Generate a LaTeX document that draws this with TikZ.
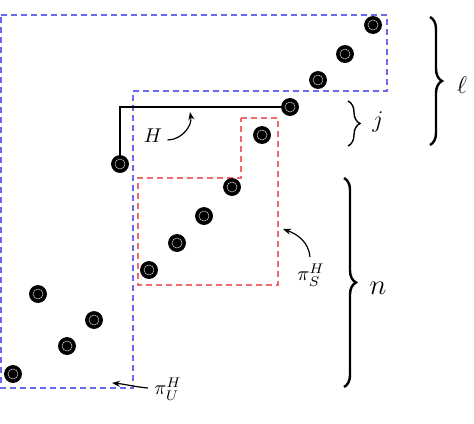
\documentclass[tikz,border=0pt]{standalone}
\usetikzlibrary{arrows.meta,decorations.pathreplacing}
\definecolor{bl}{RGB}{105,105,240}
\definecolor{rd}{RGB}{240,105,110}
\begin{document}
\begin{tikzpicture}[x=0.5pt,y=-0.5pt,
  dot/.style={circle,fill=black,draw=black,inner sep=0pt,minimum size=8.5pt,
    path picture={\draw[white!80!black,line width=0.25pt] (path picture bounding box.center) circle (2.5pt);}},
  bluebox/.style={bl,line width=0.8pt,dash pattern=on 3pt off 2pt},
  redbox/.style={rd,line width=0.8pt,dash pattern=on 3pt off 2pt},
  hpath/.style={black,line width=0.8pt},
  lbl/.style={inner sep=0pt},
  arr/.style={-{Stealth[length=4pt,width=3pt]},line width=0.6pt},
  bigbrace/.style={decorate,decoration={brace,amplitude=6pt},line width=1.2pt},
  smallbrace/.style={decorate,decoration={brace,amplitude=6pt},line width=0.7pt}]
\useasboundingbox (0,0) rectangle (474,423);
% blue region
\draw[bluebox] (1,15) -- (387,15) -- (387,91) -- (133,91) -- (133,388) -- (1,388) -- cycle;
% red region
\draw[redbox] (241,118) -- (278,118) -- (278,285) -- (138,285) -- (138,178) -- (241,178) -- cycle;
% dots
\node[dot] (d1) at (373,25) {};
\node[dot] (d2) at (345,54) {};
\node[dot] (d3) at (318,80) {};
\node[dot] (d4) at (290,107) {};
\node[dot] (d5) at (262,135) {};
\node[dot] (d6) at (120,164) {};
\node[dot] (d7) at (232,187) {};
\node[dot] (d8) at (204,216) {};
\node[dot] (d9) at (177,243) {};
\node[dot] (d10) at (149,270) {};
\node[dot] (d11) at (38,294) {};
\node[dot] (d12) at (94,320) {};
\node[dot] (d13) at (67,346) {};
\node[dot] (d14) at (13,374) {};
% H path
\draw[hpath] (d6.north) |- (d4.west);
% labels
\node[lbl,font=\normalsize] (hl) at (153,136) {$H$};
\coordinate (ht) at (190,112);
\draw[arr] (hl.east) ++(5,4) to[out=0,in=-80] (ht);
\node[lbl,font=\normalsize] (ps) at (311,275) {$\pi_S^H$};
\coordinate (pst) at (283,229);
\draw[arr] (310,257) to[out=95,in=-20] (pst);
\node[lbl,font=\normalsize] (pu) at (168,389) {$\pi_U^H$};
\coordinate (put) at (112,383);
\draw[arr] (148,388) to[out=175,in=-5] (put);
% braces
\coordinate (lt) at (430,17);
\coordinate (lb) at (430,145);
\draw[bigbrace] (lt) -- (lb);
\node[lbl,font=\large] (ell) at (462,85) {$\ell$};
\coordinate (jt) at (348,101);
\coordinate (jb) at (348,146);
\draw[smallbrace] (jt) -- (jb);
\node[lbl,font=\large] (jl) at (378,122) {$j$};
\coordinate (nt) at (344,178);
\coordinate (nb) at (344,387);
\draw[bigbrace] (nt) -- (nb);
\node[lbl,font=\Large] (nl) at (378,288) {$n$};
\end{tikzpicture}
\end{document}
